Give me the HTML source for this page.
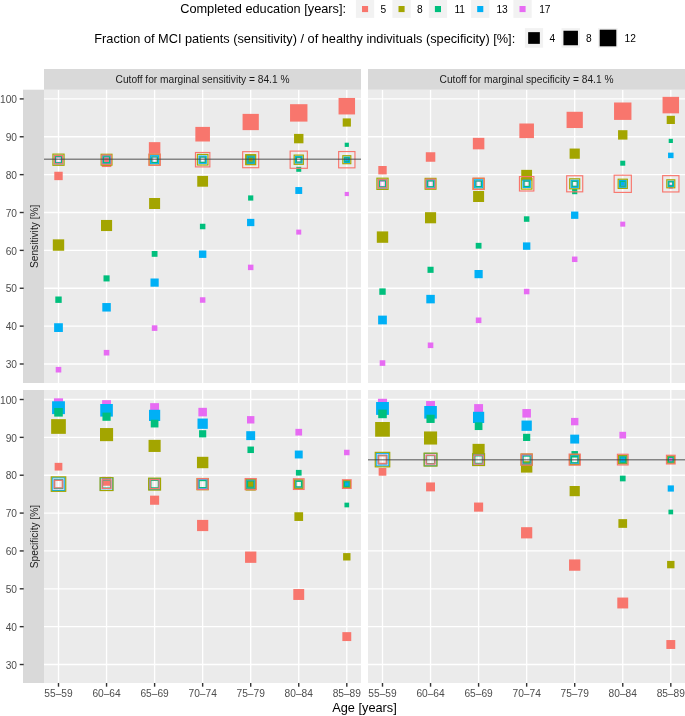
<!DOCTYPE html>
<html lang="en"><head><meta charset="utf-8"><title>Sensitivity and specificity by age and education</title>
<style>html,body{margin:0;padding:0;background:#fff}svg{display:block}text{font-family:"Liberation Sans",Arial,Helvetica,sans-serif}</style></head><body>
<svg width="685" height="716" viewBox="0 0 685 716">
<rect width="685" height="716" fill="#fff"/>
<clipPath id="c1"><rect x="44" y="89.7" width="317" height="293.3"/></clipPath>
<rect x="44" y="89.7" width="317" height="293.3" fill="#EBEBEB"/>
<g clip-path="url(#c1)">
<line x1="44" x2="361" y1="363.99" y2="363.99" stroke="#fff" stroke-width="1.35"/>
<line x1="44" x2="361" y1="326.12" y2="326.12" stroke="#fff" stroke-width="1.35"/>
<line x1="44" x2="361" y1="288.25" y2="288.25" stroke="#fff" stroke-width="1.35"/>
<line x1="44" x2="361" y1="250.38" y2="250.38" stroke="#fff" stroke-width="1.35"/>
<line x1="44" x2="361" y1="212.51" y2="212.51" stroke="#fff" stroke-width="1.35"/>
<line x1="44" x2="361" y1="174.64" y2="174.64" stroke="#fff" stroke-width="1.35"/>
<line x1="44" x2="361" y1="136.77" y2="136.77" stroke="#fff" stroke-width="1.35"/>
<line x1="44" x2="361" y1="98.9" y2="98.9" stroke="#fff" stroke-width="1.35"/>
<line x1="58.5" x2="58.5" y1="89.7" y2="383" stroke="#fff" stroke-width="1.35"/>
<line x1="106.55" x2="106.55" y1="89.7" y2="383" stroke="#fff" stroke-width="1.35"/>
<line x1="154.6" x2="154.6" y1="89.7" y2="383" stroke="#fff" stroke-width="1.35"/>
<line x1="202.65" x2="202.65" y1="89.7" y2="383" stroke="#fff" stroke-width="1.35"/>
<line x1="250.7" x2="250.7" y1="89.7" y2="383" stroke="#fff" stroke-width="1.35"/>
<line x1="298.75" x2="298.75" y1="89.7" y2="383" stroke="#fff" stroke-width="1.35"/>
<line x1="346.8" x2="346.8" y1="89.7" y2="383" stroke="#fff" stroke-width="1.35"/>
<rect x="55.7" y="366.9" width="5.6" height="5.6" fill="#E76BF3"/>
<rect x="103.75" y="349.9" width="5.6" height="5.6" fill="#E76BF3"/>
<rect x="151.8" y="325.3" width="5.6" height="5.6" fill="#E76BF3"/>
<rect x="199.9" y="297.25" width="5.5" height="5.5" fill="#E76BF3"/>
<rect x="247.95" y="264.65" width="5.5" height="5.5" fill="#E76BF3"/>
<rect x="296.25" y="229.6" width="5" height="5" fill="#E76BF3"/>
<rect x="344.7" y="191.9" width="4.2" height="4.2" fill="#E76BF3"/>
<rect x="54.12" y="323.23" width="8.75" height="8.75" fill="#00B0F6"/>
<rect x="102.3" y="303.05" width="8.5" height="8.5" fill="#00B0F6"/>
<rect x="150.5" y="278.5" width="8.2" height="8.2" fill="#00B0F6"/>
<rect x="198.95" y="250.5" width="7.4" height="7.4" fill="#00B0F6"/>
<rect x="247.05" y="218.85" width="7.3" height="7.3" fill="#00B0F6"/>
<rect x="295.3" y="187.05" width="6.9" height="6.9" fill="#00B0F6"/>
<rect x="344.05" y="157.25" width="5.5" height="5.5" fill="#00B0F6"/>
<rect x="55.3" y="296.5" width="6.4" height="6.4" fill="#00BF7D"/>
<rect x="103.5" y="275.35" width="6.1" height="6.1" fill="#00BF7D"/>
<rect x="151.7" y="251" width="5.8" height="5.8" fill="#00BF7D"/>
<rect x="199.9" y="223.75" width="5.5" height="5.5" fill="#00BF7D"/>
<rect x="248.1" y="195.4" width="5.2" height="5.2" fill="#00BF7D"/>
<rect x="296.25" y="166.8" width="5" height="5" fill="#00BF7D"/>
<rect x="344.7" y="142.7" width="4.2" height="4.2" fill="#00BF7D"/>
<rect x="52.8" y="239.35" width="11.4" height="11.4" fill="#A3A500"/>
<rect x="101" y="219.95" width="11.1" height="11.1" fill="#A3A500"/>
<rect x="149.1" y="198" width="11" height="11" fill="#A3A500"/>
<rect x="197.25" y="175.9" width="10.8" height="10.8" fill="#A3A500"/>
<rect x="245.6" y="154.4" width="10.2" height="10.2" fill="#A3A500"/>
<rect x="294.05" y="133.9" width="9.4" height="9.4" fill="#A3A500"/>
<rect x="342.7" y="118.4" width="8.2" height="8.2" fill="#A3A500"/>
<rect x="54.3" y="171.75" width="8.4" height="8.4" fill="#F8766D"/>
<rect x="101.8" y="157.55" width="9.5" height="9.5" fill="#F8766D"/>
<rect x="148.85" y="142.15" width="11.5" height="11.5" fill="#F8766D"/>
<rect x="195.35" y="126.9" width="14.6" height="14.6" fill="#F8766D"/>
<rect x="242.57" y="113.88" width="16.25" height="16.25" fill="#F8766D"/>
<rect x="290.05" y="104.2" width="17.4" height="17.4" fill="#F8766D"/>
<rect x="338.55" y="97.95" width="16.5" height="16.5" fill="#F8766D"/>
<rect x="55.8" y="157" width="5.4" height="5.4" fill="none" stroke="#E76BF3" stroke-width="1.15"/>
<rect x="103.85" y="157" width="5.4" height="5.4" fill="none" stroke="#E76BF3" stroke-width="1.15"/>
<rect x="151.9" y="157" width="5.4" height="5.4" fill="none" stroke="#E76BF3" stroke-width="1.15"/>
<rect x="200" y="157.05" width="5.3" height="5.3" fill="none" stroke="#E76BF3" stroke-width="1.15"/>
<rect x="248.05" y="157.05" width="5.3" height="5.3" fill="none" stroke="#E76BF3" stroke-width="1.15"/>
<rect x="296.35" y="157.3" width="4.8" height="4.8" fill="none" stroke="#E76BF3" stroke-width="1.15"/>
<rect x="344.8" y="157.7" width="4" height="4" fill="none" stroke="#E76BF3" stroke-width="1.15"/>
<rect x="54.23" y="155.42" width="8.55" height="8.55" fill="none" stroke="#00B0F6" stroke-width="1.15"/>
<rect x="102.4" y="155.55" width="8.3" height="8.3" fill="none" stroke="#00B0F6" stroke-width="1.15"/>
<rect x="150.6" y="155.7" width="8" height="8" fill="none" stroke="#00B0F6" stroke-width="1.15"/>
<rect x="199.05" y="156.1" width="7.2" height="7.2" fill="none" stroke="#00B0F6" stroke-width="1.15"/>
<rect x="247.15" y="156.15" width="7.1" height="7.1" fill="none" stroke="#00B0F6" stroke-width="1.15"/>
<rect x="295.4" y="156.35" width="6.7" height="6.7" fill="none" stroke="#00B0F6" stroke-width="1.15"/>
<rect x="344.15" y="157.05" width="5.3" height="5.3" fill="none" stroke="#00B0F6" stroke-width="1.15"/>
<rect x="55.4" y="156.6" width="6.2" height="6.2" fill="none" stroke="#00BF7D" stroke-width="1.15"/>
<rect x="103.6" y="156.75" width="5.9" height="5.9" fill="none" stroke="#00BF7D" stroke-width="1.15"/>
<rect x="151.8" y="156.9" width="5.6" height="5.6" fill="none" stroke="#00BF7D" stroke-width="1.15"/>
<rect x="200" y="157.05" width="5.3" height="5.3" fill="none" stroke="#00BF7D" stroke-width="1.15"/>
<rect x="248.2" y="157.2" width="5" height="5" fill="none" stroke="#00BF7D" stroke-width="1.15"/>
<rect x="296.35" y="157.3" width="4.8" height="4.8" fill="none" stroke="#00BF7D" stroke-width="1.15"/>
<rect x="344.8" y="157.7" width="4" height="4" fill="none" stroke="#00BF7D" stroke-width="1.15"/>
<rect x="52.9" y="154.1" width="11.2" height="11.2" fill="none" stroke="#A3A500" stroke-width="1.15"/>
<rect x="101.1" y="154.25" width="10.9" height="10.9" fill="none" stroke="#A3A500" stroke-width="1.15"/>
<rect x="149.2" y="154.3" width="10.8" height="10.8" fill="none" stroke="#A3A500" stroke-width="1.15"/>
<rect x="197.35" y="154.4" width="10.6" height="10.6" fill="none" stroke="#A3A500" stroke-width="1.15"/>
<rect x="245.7" y="154.7" width="10" height="10" fill="none" stroke="#A3A500" stroke-width="1.15"/>
<rect x="294.15" y="155.1" width="9.2" height="9.2" fill="none" stroke="#A3A500" stroke-width="1.15"/>
<rect x="342.8" y="155.7" width="8" height="8" fill="none" stroke="#A3A500" stroke-width="1.15"/>
<rect x="54.4" y="155.6" width="8.2" height="8.2" fill="none" stroke="#F8766D" stroke-width="1.15"/>
<rect x="101.9" y="155.05" width="9.3" height="9.3" fill="none" stroke="#F8766D" stroke-width="1.15"/>
<rect x="148.95" y="154.05" width="11.3" height="11.3" fill="none" stroke="#F8766D" stroke-width="1.15"/>
<rect x="195.45" y="152.5" width="14.4" height="14.4" fill="none" stroke="#F8766D" stroke-width="1.15"/>
<rect x="242.67" y="151.67" width="16.05" height="16.05" fill="none" stroke="#F8766D" stroke-width="1.15"/>
<rect x="290.15" y="151.1" width="17.2" height="17.2" fill="none" stroke="#F8766D" stroke-width="1.15"/>
<rect x="338.65" y="151.55" width="16.3" height="16.3" fill="none" stroke="#F8766D" stroke-width="1.15"/>
<line x1="44" x2="361" y1="159.2" y2="159.2" stroke="#404040" stroke-opacity="0.6" stroke-width="1.45"/>
</g>
<clipPath id="c2"><rect x="368" y="89.7" width="317" height="293.3"/></clipPath>
<rect x="368" y="89.7" width="317" height="293.3" fill="#EBEBEB"/>
<g clip-path="url(#c2)">
<line x1="368" x2="685" y1="363.99" y2="363.99" stroke="#fff" stroke-width="1.35"/>
<line x1="368" x2="685" y1="326.12" y2="326.12" stroke="#fff" stroke-width="1.35"/>
<line x1="368" x2="685" y1="288.25" y2="288.25" stroke="#fff" stroke-width="1.35"/>
<line x1="368" x2="685" y1="250.38" y2="250.38" stroke="#fff" stroke-width="1.35"/>
<line x1="368" x2="685" y1="212.51" y2="212.51" stroke="#fff" stroke-width="1.35"/>
<line x1="368" x2="685" y1="174.64" y2="174.64" stroke="#fff" stroke-width="1.35"/>
<line x1="368" x2="685" y1="136.77" y2="136.77" stroke="#fff" stroke-width="1.35"/>
<line x1="368" x2="685" y1="98.9" y2="98.9" stroke="#fff" stroke-width="1.35"/>
<line x1="382.5" x2="382.5" y1="89.7" y2="383" stroke="#fff" stroke-width="1.35"/>
<line x1="430.55" x2="430.55" y1="89.7" y2="383" stroke="#fff" stroke-width="1.35"/>
<line x1="478.6" x2="478.6" y1="89.7" y2="383" stroke="#fff" stroke-width="1.35"/>
<line x1="526.65" x2="526.65" y1="89.7" y2="383" stroke="#fff" stroke-width="1.35"/>
<line x1="574.7" x2="574.7" y1="89.7" y2="383" stroke="#fff" stroke-width="1.35"/>
<line x1="622.75" x2="622.75" y1="89.7" y2="383" stroke="#fff" stroke-width="1.35"/>
<line x1="670.8" x2="670.8" y1="89.7" y2="383" stroke="#fff" stroke-width="1.35"/>
<rect x="379.7" y="360.25" width="5.6" height="5.6" fill="#E76BF3"/>
<rect x="427.75" y="342.5" width="5.6" height="5.6" fill="#E76BF3"/>
<rect x="475.8" y="317.5" width="5.6" height="5.6" fill="#E76BF3"/>
<rect x="523.9" y="288.8" width="5.5" height="5.5" fill="#E76BF3"/>
<rect x="571.95" y="256.55" width="5.5" height="5.5" fill="#E76BF3"/>
<rect x="620.25" y="221.65" width="5" height="5" fill="#E76BF3"/>
<rect x="668.7" y="184.6" width="4.2" height="4.2" fill="#E76BF3"/>
<rect x="378.12" y="315.62" width="8.75" height="8.75" fill="#00B0F6"/>
<rect x="426.3" y="294.85" width="8.5" height="8.5" fill="#00B0F6"/>
<rect x="474.5" y="270" width="8.2" height="8.2" fill="#00B0F6"/>
<rect x="522.95" y="242.4" width="7.4" height="7.4" fill="#00B0F6"/>
<rect x="571.05" y="211.55" width="7.3" height="7.3" fill="#00B0F6"/>
<rect x="619.3" y="180.65" width="6.9" height="6.9" fill="#00B0F6"/>
<rect x="668.05" y="152.65" width="5.5" height="5.5" fill="#00B0F6"/>
<rect x="379.3" y="288.4" width="6.4" height="6.4" fill="#00BF7D"/>
<rect x="427.5" y="266.75" width="6.1" height="6.1" fill="#00BF7D"/>
<rect x="475.7" y="242.85" width="5.8" height="5.8" fill="#00BF7D"/>
<rect x="523.9" y="216.3" width="5.5" height="5.5" fill="#00BF7D"/>
<rect x="572.1" y="189" width="5.2" height="5.2" fill="#00BF7D"/>
<rect x="620.25" y="160.7" width="5" height="5" fill="#00BF7D"/>
<rect x="668.7" y="138.8" width="4.2" height="4.2" fill="#00BF7D"/>
<rect x="376.8" y="231.4" width="11.4" height="11.4" fill="#A3A500"/>
<rect x="425" y="212.2" width="11.1" height="11.1" fill="#A3A500"/>
<rect x="473.1" y="191" width="11" height="11" fill="#A3A500"/>
<rect x="521.25" y="169.85" width="10.8" height="10.8" fill="#A3A500"/>
<rect x="569.6" y="148.55" width="10.2" height="10.2" fill="#A3A500"/>
<rect x="618.05" y="130.2" width="9.4" height="9.4" fill="#A3A500"/>
<rect x="666.7" y="115.8" width="8.2" height="8.2" fill="#A3A500"/>
<rect x="378.3" y="166" width="8.4" height="8.4" fill="#F8766D"/>
<rect x="425.8" y="152.25" width="9.5" height="9.5" fill="#F8766D"/>
<rect x="472.85" y="137.85" width="11.5" height="11.5" fill="#F8766D"/>
<rect x="519.35" y="123.5" width="14.6" height="14.6" fill="#F8766D"/>
<rect x="566.58" y="111.78" width="16.25" height="16.25" fill="#F8766D"/>
<rect x="614.05" y="102.5" width="17.4" height="17.4" fill="#F8766D"/>
<rect x="662.55" y="96.85" width="16.5" height="16.5" fill="#F8766D"/>
<rect x="379.8" y="181.1" width="5.4" height="5.4" fill="none" stroke="#E76BF3" stroke-width="1.15"/>
<rect x="427.85" y="181.1" width="5.4" height="5.4" fill="none" stroke="#E76BF3" stroke-width="1.15"/>
<rect x="475.9" y="181.1" width="5.4" height="5.4" fill="none" stroke="#E76BF3" stroke-width="1.15"/>
<rect x="524" y="181.15" width="5.3" height="5.3" fill="none" stroke="#E76BF3" stroke-width="1.15"/>
<rect x="572.05" y="181.15" width="5.3" height="5.3" fill="none" stroke="#E76BF3" stroke-width="1.15"/>
<rect x="620.35" y="181.4" width="4.8" height="4.8" fill="none" stroke="#E76BF3" stroke-width="1.15"/>
<rect x="668.8" y="181.8" width="4" height="4" fill="none" stroke="#E76BF3" stroke-width="1.15"/>
<rect x="378.23" y="179.53" width="8.55" height="8.55" fill="none" stroke="#00B0F6" stroke-width="1.15"/>
<rect x="426.4" y="179.65" width="8.3" height="8.3" fill="none" stroke="#00B0F6" stroke-width="1.15"/>
<rect x="474.6" y="179.8" width="8" height="8" fill="none" stroke="#00B0F6" stroke-width="1.15"/>
<rect x="523.05" y="180.2" width="7.2" height="7.2" fill="none" stroke="#00B0F6" stroke-width="1.15"/>
<rect x="571.15" y="180.25" width="7.1" height="7.1" fill="none" stroke="#00B0F6" stroke-width="1.15"/>
<rect x="619.4" y="180.45" width="6.7" height="6.7" fill="none" stroke="#00B0F6" stroke-width="1.15"/>
<rect x="668.15" y="181.15" width="5.3" height="5.3" fill="none" stroke="#00B0F6" stroke-width="1.15"/>
<rect x="379.4" y="180.7" width="6.2" height="6.2" fill="none" stroke="#00BF7D" stroke-width="1.15"/>
<rect x="427.6" y="180.85" width="5.9" height="5.9" fill="none" stroke="#00BF7D" stroke-width="1.15"/>
<rect x="475.8" y="181" width="5.6" height="5.6" fill="none" stroke="#00BF7D" stroke-width="1.15"/>
<rect x="524" y="181.15" width="5.3" height="5.3" fill="none" stroke="#00BF7D" stroke-width="1.15"/>
<rect x="572.2" y="181.3" width="5" height="5" fill="none" stroke="#00BF7D" stroke-width="1.15"/>
<rect x="620.35" y="181.4" width="4.8" height="4.8" fill="none" stroke="#00BF7D" stroke-width="1.15"/>
<rect x="668.8" y="181.8" width="4" height="4" fill="none" stroke="#00BF7D" stroke-width="1.15"/>
<rect x="376.9" y="178.2" width="11.2" height="11.2" fill="none" stroke="#A3A500" stroke-width="1.15"/>
<rect x="425.1" y="178.35" width="10.9" height="10.9" fill="none" stroke="#A3A500" stroke-width="1.15"/>
<rect x="473.2" y="178.4" width="10.8" height="10.8" fill="none" stroke="#A3A500" stroke-width="1.15"/>
<rect x="521.35" y="178.5" width="10.6" height="10.6" fill="none" stroke="#A3A500" stroke-width="1.15"/>
<rect x="569.7" y="178.8" width="10" height="10" fill="none" stroke="#A3A500" stroke-width="1.15"/>
<rect x="618.15" y="179.2" width="9.2" height="9.2" fill="none" stroke="#A3A500" stroke-width="1.15"/>
<rect x="666.8" y="179.8" width="8" height="8" fill="none" stroke="#A3A500" stroke-width="1.15"/>
<rect x="378.4" y="179.7" width="8.2" height="8.2" fill="none" stroke="#F8766D" stroke-width="1.15"/>
<rect x="425.9" y="179.15" width="9.3" height="9.3" fill="none" stroke="#F8766D" stroke-width="1.15"/>
<rect x="472.95" y="178.15" width="11.3" height="11.3" fill="none" stroke="#F8766D" stroke-width="1.15"/>
<rect x="519.45" y="176.6" width="14.4" height="14.4" fill="none" stroke="#F8766D" stroke-width="1.15"/>
<rect x="566.68" y="175.78" width="16.05" height="16.05" fill="none" stroke="#F8766D" stroke-width="1.15"/>
<rect x="614.15" y="175.2" width="17.2" height="17.2" fill="none" stroke="#F8766D" stroke-width="1.15"/>
<rect x="662.65" y="175.65" width="16.3" height="16.3" fill="none" stroke="#F8766D" stroke-width="1.15"/>
</g>
<clipPath id="c3"><rect x="44" y="390" width="317" height="293"/></clipPath>
<rect x="44" y="390" width="317" height="293" fill="#EBEBEB"/>
<g clip-path="url(#c3)">
<line x1="44" x2="361" y1="664.52" y2="664.52" stroke="#fff" stroke-width="1.35"/>
<line x1="44" x2="361" y1="626.66" y2="626.66" stroke="#fff" stroke-width="1.35"/>
<line x1="44" x2="361" y1="588.8" y2="588.8" stroke="#fff" stroke-width="1.35"/>
<line x1="44" x2="361" y1="550.94" y2="550.94" stroke="#fff" stroke-width="1.35"/>
<line x1="44" x2="361" y1="513.08" y2="513.08" stroke="#fff" stroke-width="1.35"/>
<line x1="44" x2="361" y1="475.22" y2="475.22" stroke="#fff" stroke-width="1.35"/>
<line x1="44" x2="361" y1="437.36" y2="437.36" stroke="#fff" stroke-width="1.35"/>
<line x1="44" x2="361" y1="399.5" y2="399.5" stroke="#fff" stroke-width="1.35"/>
<line x1="58.5" x2="58.5" y1="390" y2="683" stroke="#fff" stroke-width="1.35"/>
<line x1="106.55" x2="106.55" y1="390" y2="683" stroke="#fff" stroke-width="1.35"/>
<line x1="154.6" x2="154.6" y1="390" y2="683" stroke="#fff" stroke-width="1.35"/>
<line x1="202.65" x2="202.65" y1="390" y2="683" stroke="#fff" stroke-width="1.35"/>
<line x1="250.7" x2="250.7" y1="390" y2="683" stroke="#fff" stroke-width="1.35"/>
<line x1="298.75" x2="298.75" y1="390" y2="683" stroke="#fff" stroke-width="1.35"/>
<line x1="346.8" x2="346.8" y1="390" y2="683" stroke="#fff" stroke-width="1.35"/>
<rect x="53.95" y="398.3" width="9.1" height="9.1" fill="#E76BF3"/>
<rect x="102.1" y="400.15" width="8.9" height="8.9" fill="#E76BF3"/>
<rect x="150.15" y="403.15" width="8.9" height="8.9" fill="#E76BF3"/>
<rect x="198.37" y="407.83" width="8.55" height="8.55" fill="#E76BF3"/>
<rect x="247" y="416.1" width="7.4" height="7.4" fill="#E76BF3"/>
<rect x="295.4" y="428.85" width="6.7" height="6.7" fill="#E76BF3"/>
<rect x="344.05" y="449.75" width="5.5" height="5.5" fill="#E76BF3"/>
<rect x="52.08" y="401.27" width="12.85" height="12.85" fill="#00B0F6"/>
<rect x="100.25" y="404" width="12.6" height="12.6" fill="#00B0F6"/>
<rect x="149" y="409.8" width="11.2" height="11.2" fill="#00B0F6"/>
<rect x="197.5" y="418.55" width="10.3" height="10.3" fill="#00B0F6"/>
<rect x="246.25" y="431.2" width="8.9" height="8.9" fill="#00B0F6"/>
<rect x="294.8" y="450.55" width="7.9" height="7.9" fill="#00B0F6"/>
<rect x="343.7" y="480.9" width="6.2" height="6.2" fill="#00B0F6"/>
<rect x="54.2" y="408" width="8.6" height="8.6" fill="#00BF7D"/>
<rect x="102.45" y="412.6" width="8.2" height="8.2" fill="#00BF7D"/>
<rect x="150.75" y="419.75" width="7.7" height="7.7" fill="#00BF7D"/>
<rect x="199.05" y="430.2" width="7.2" height="7.2" fill="#00BF7D"/>
<rect x="247.45" y="446.55" width="6.5" height="6.5" fill="#00BF7D"/>
<rect x="295.9" y="469.9" width="5.7" height="5.7" fill="#00BF7D"/>
<rect x="344.45" y="502.65" width="4.7" height="4.7" fill="#00BF7D"/>
<rect x="51.15" y="419.15" width="14.7" height="14.7" fill="#A3A500"/>
<rect x="100" y="428.05" width="13.1" height="13.1" fill="#A3A500"/>
<rect x="148.55" y="439.85" width="12.1" height="12.1" fill="#A3A500"/>
<rect x="196.95" y="456.8" width="11.4" height="11.4" fill="#A3A500"/>
<rect x="245.6" y="480.4" width="10.2" height="10.2" fill="#A3A500"/>
<rect x="294.4" y="512.25" width="8.7" height="8.7" fill="#A3A500"/>
<rect x="343.1" y="553.1" width="7.4" height="7.4" fill="#A3A500"/>
<rect x="54.65" y="462.85" width="7.7" height="7.7" fill="#F8766D"/>
<rect x="102.1" y="476.85" width="8.9" height="8.9" fill="#F8766D"/>
<rect x="150.05" y="495.65" width="9.1" height="9.1" fill="#F8766D"/>
<rect x="197.05" y="519.9" width="11.2" height="11.2" fill="#F8766D"/>
<rect x="245.05" y="551.55" width="11.3" height="11.3" fill="#F8766D"/>
<rect x="293.3" y="589.05" width="10.9" height="10.9" fill="#F8766D"/>
<rect x="342.35" y="632.15" width="8.9" height="8.9" fill="#F8766D"/>
<rect x="54.05" y="479.65" width="8.9" height="8.9" fill="none" stroke="#E76BF3" stroke-width="1.15"/>
<rect x="102.2" y="479.75" width="8.7" height="8.7" fill="none" stroke="#E76BF3" stroke-width="1.15"/>
<rect x="150.25" y="479.75" width="8.7" height="8.7" fill="none" stroke="#E76BF3" stroke-width="1.15"/>
<rect x="198.47" y="479.93" width="8.35" height="8.35" fill="none" stroke="#E76BF3" stroke-width="1.15"/>
<rect x="247.1" y="480.5" width="7.2" height="7.2" fill="none" stroke="#E76BF3" stroke-width="1.15"/>
<rect x="295.5" y="480.85" width="6.5" height="6.5" fill="none" stroke="#E76BF3" stroke-width="1.15"/>
<rect x="344.15" y="481.45" width="5.3" height="5.3" fill="none" stroke="#E76BF3" stroke-width="1.15"/>
<rect x="52.17" y="477.78" width="12.65" height="12.65" fill="none" stroke="#00B0F6" stroke-width="1.15"/>
<rect x="100.35" y="477.9" width="12.4" height="12.4" fill="none" stroke="#00B0F6" stroke-width="1.15"/>
<rect x="149.1" y="478.6" width="11" height="11" fill="none" stroke="#00B0F6" stroke-width="1.15"/>
<rect x="197.6" y="479.05" width="10.1" height="10.1" fill="none" stroke="#00B0F6" stroke-width="1.15"/>
<rect x="246.35" y="479.75" width="8.7" height="8.7" fill="none" stroke="#00B0F6" stroke-width="1.15"/>
<rect x="294.9" y="480.25" width="7.7" height="7.7" fill="none" stroke="#00B0F6" stroke-width="1.15"/>
<rect x="343.8" y="481.1" width="6" height="6" fill="none" stroke="#00B0F6" stroke-width="1.15"/>
<rect x="54.3" y="479.9" width="8.4" height="8.4" fill="none" stroke="#00BF7D" stroke-width="1.15"/>
<rect x="102.55" y="480.1" width="8" height="8" fill="none" stroke="#00BF7D" stroke-width="1.15"/>
<rect x="150.85" y="480.35" width="7.5" height="7.5" fill="none" stroke="#00BF7D" stroke-width="1.15"/>
<rect x="199.15" y="480.6" width="7" height="7" fill="none" stroke="#00BF7D" stroke-width="1.15"/>
<rect x="247.55" y="480.95" width="6.3" height="6.3" fill="none" stroke="#00BF7D" stroke-width="1.15"/>
<rect x="296" y="481.35" width="5.5" height="5.5" fill="none" stroke="#00BF7D" stroke-width="1.15"/>
<rect x="344.55" y="481.85" width="4.5" height="4.5" fill="none" stroke="#00BF7D" stroke-width="1.15"/>
<rect x="51.25" y="476.85" width="14.5" height="14.5" fill="none" stroke="#A3A500" stroke-width="1.15"/>
<rect x="100.1" y="477.65" width="12.9" height="12.9" fill="none" stroke="#A3A500" stroke-width="1.15"/>
<rect x="148.65" y="478.15" width="11.9" height="11.9" fill="none" stroke="#A3A500" stroke-width="1.15"/>
<rect x="197.05" y="478.5" width="11.2" height="11.2" fill="none" stroke="#A3A500" stroke-width="1.15"/>
<rect x="245.7" y="479.1" width="10" height="10" fill="none" stroke="#A3A500" stroke-width="1.15"/>
<rect x="294.5" y="479.85" width="8.5" height="8.5" fill="none" stroke="#A3A500" stroke-width="1.15"/>
<rect x="343.2" y="480.5" width="7.2" height="7.2" fill="none" stroke="#A3A500" stroke-width="1.15"/>
<rect x="54.75" y="480.35" width="7.5" height="7.5" fill="none" stroke="#F8766D" stroke-width="1.15"/>
<rect x="102.2" y="479.75" width="8.7" height="8.7" fill="none" stroke="#F8766D" stroke-width="1.15"/>
<rect x="150.15" y="479.65" width="8.9" height="8.9" fill="none" stroke="#F8766D" stroke-width="1.15"/>
<rect x="197.15" y="478.6" width="11" height="11" fill="none" stroke="#F8766D" stroke-width="1.15"/>
<rect x="245.15" y="478.55" width="11.1" height="11.1" fill="none" stroke="#F8766D" stroke-width="1.15"/>
<rect x="293.4" y="478.75" width="10.7" height="10.7" fill="none" stroke="#F8766D" stroke-width="1.15"/>
<rect x="342.45" y="479.75" width="8.7" height="8.7" fill="none" stroke="#F8766D" stroke-width="1.15"/>
</g>
<clipPath id="c4"><rect x="368" y="390" width="317" height="293"/></clipPath>
<rect x="368" y="390" width="317" height="293" fill="#EBEBEB"/>
<g clip-path="url(#c4)">
<line x1="368" x2="685" y1="664.52" y2="664.52" stroke="#fff" stroke-width="1.35"/>
<line x1="368" x2="685" y1="626.66" y2="626.66" stroke="#fff" stroke-width="1.35"/>
<line x1="368" x2="685" y1="588.8" y2="588.8" stroke="#fff" stroke-width="1.35"/>
<line x1="368" x2="685" y1="550.94" y2="550.94" stroke="#fff" stroke-width="1.35"/>
<line x1="368" x2="685" y1="513.08" y2="513.08" stroke="#fff" stroke-width="1.35"/>
<line x1="368" x2="685" y1="475.22" y2="475.22" stroke="#fff" stroke-width="1.35"/>
<line x1="368" x2="685" y1="437.36" y2="437.36" stroke="#fff" stroke-width="1.35"/>
<line x1="368" x2="685" y1="399.5" y2="399.5" stroke="#fff" stroke-width="1.35"/>
<line x1="382.5" x2="382.5" y1="390" y2="683" stroke="#fff" stroke-width="1.35"/>
<line x1="430.55" x2="430.55" y1="390" y2="683" stroke="#fff" stroke-width="1.35"/>
<line x1="478.6" x2="478.6" y1="390" y2="683" stroke="#fff" stroke-width="1.35"/>
<line x1="526.65" x2="526.65" y1="390" y2="683" stroke="#fff" stroke-width="1.35"/>
<line x1="574.7" x2="574.7" y1="390" y2="683" stroke="#fff" stroke-width="1.35"/>
<line x1="622.75" x2="622.75" y1="390" y2="683" stroke="#fff" stroke-width="1.35"/>
<line x1="670.8" x2="670.8" y1="390" y2="683" stroke="#fff" stroke-width="1.35"/>
<rect x="377.95" y="398.75" width="9.1" height="9.1" fill="#E76BF3"/>
<rect x="426.1" y="401.05" width="8.9" height="8.9" fill="#E76BF3"/>
<rect x="474.15" y="404.1" width="8.9" height="8.9" fill="#E76BF3"/>
<rect x="522.38" y="409.03" width="8.55" height="8.55" fill="#E76BF3"/>
<rect x="571" y="417.9" width="7.4" height="7.4" fill="#E76BF3"/>
<rect x="619.4" y="431.8" width="6.7" height="6.7" fill="#E76BF3"/>
<rect x="668.05" y="456.25" width="5.5" height="5.5" fill="#E76BF3"/>
<rect x="376.07" y="402.02" width="12.85" height="12.85" fill="#00B0F6"/>
<rect x="424.25" y="406" width="12.6" height="12.6" fill="#00B0F6"/>
<rect x="473" y="411.8" width="11.2" height="11.2" fill="#00B0F6"/>
<rect x="521.5" y="420.55" width="10.3" height="10.3" fill="#00B0F6"/>
<rect x="570.25" y="434.65" width="8.9" height="8.9" fill="#00B0F6"/>
<rect x="618.8" y="455.55" width="7.9" height="7.9" fill="#00B0F6"/>
<rect x="667.7" y="485.4" width="6.2" height="6.2" fill="#00B0F6"/>
<rect x="378.2" y="409.6" width="8.6" height="8.6" fill="#00BF7D"/>
<rect x="426.45" y="414.75" width="8.2" height="8.2" fill="#00BF7D"/>
<rect x="474.75" y="422.35" width="7.7" height="7.7" fill="#00BF7D"/>
<rect x="523.05" y="433.8" width="7.2" height="7.2" fill="#00BF7D"/>
<rect x="571.45" y="451.05" width="6.5" height="6.5" fill="#00BF7D"/>
<rect x="619.9" y="475.65" width="5.7" height="5.7" fill="#00BF7D"/>
<rect x="668.45" y="509.65" width="4.7" height="4.7" fill="#00BF7D"/>
<rect x="375.15" y="422" width="14.7" height="14.7" fill="#A3A500"/>
<rect x="424" y="431.45" width="13.1" height="13.1" fill="#A3A500"/>
<rect x="472.55" y="443.85" width="12.1" height="12.1" fill="#A3A500"/>
<rect x="520.95" y="461.2" width="11.4" height="11.4" fill="#A3A500"/>
<rect x="569.6" y="486" width="10.2" height="10.2" fill="#A3A500"/>
<rect x="618.4" y="519.15" width="8.7" height="8.7" fill="#A3A500"/>
<rect x="667.1" y="560.9" width="7.4" height="7.4" fill="#A3A500"/>
<rect x="378.65" y="468" width="7.7" height="7.7" fill="#F8766D"/>
<rect x="426.1" y="482.45" width="8.9" height="8.9" fill="#F8766D"/>
<rect x="474.05" y="502.55" width="9.1" height="9.1" fill="#F8766D"/>
<rect x="521.05" y="527.2" width="11.2" height="11.2" fill="#F8766D"/>
<rect x="569.05" y="559.45" width="11.3" height="11.3" fill="#F8766D"/>
<rect x="617.3" y="597.55" width="10.9" height="10.9" fill="#F8766D"/>
<rect x="666.35" y="640.05" width="8.9" height="8.9" fill="#F8766D"/>
<rect x="378.05" y="455.15" width="8.9" height="8.9" fill="none" stroke="#E76BF3" stroke-width="1.15"/>
<rect x="426.2" y="455.25" width="8.7" height="8.7" fill="none" stroke="#E76BF3" stroke-width="1.15"/>
<rect x="474.25" y="455.25" width="8.7" height="8.7" fill="none" stroke="#E76BF3" stroke-width="1.15"/>
<rect x="522.48" y="455.43" width="8.35" height="8.35" fill="none" stroke="#E76BF3" stroke-width="1.15"/>
<rect x="571.1" y="456" width="7.2" height="7.2" fill="none" stroke="#E76BF3" stroke-width="1.15"/>
<rect x="619.5" y="456.35" width="6.5" height="6.5" fill="none" stroke="#E76BF3" stroke-width="1.15"/>
<rect x="668.15" y="456.95" width="5.3" height="5.3" fill="none" stroke="#E76BF3" stroke-width="1.15"/>
<rect x="376.18" y="453.28" width="12.65" height="12.65" fill="none" stroke="#00B0F6" stroke-width="1.15"/>
<rect x="424.35" y="453.4" width="12.4" height="12.4" fill="none" stroke="#00B0F6" stroke-width="1.15"/>
<rect x="473.1" y="454.1" width="11" height="11" fill="none" stroke="#00B0F6" stroke-width="1.15"/>
<rect x="521.6" y="454.55" width="10.1" height="10.1" fill="none" stroke="#00B0F6" stroke-width="1.15"/>
<rect x="570.35" y="455.25" width="8.7" height="8.7" fill="none" stroke="#00B0F6" stroke-width="1.15"/>
<rect x="618.9" y="455.75" width="7.7" height="7.7" fill="none" stroke="#00B0F6" stroke-width="1.15"/>
<rect x="667.8" y="456.6" width="6" height="6" fill="none" stroke="#00B0F6" stroke-width="1.15"/>
<rect x="378.3" y="455.4" width="8.4" height="8.4" fill="none" stroke="#00BF7D" stroke-width="1.15"/>
<rect x="426.55" y="455.6" width="8" height="8" fill="none" stroke="#00BF7D" stroke-width="1.15"/>
<rect x="474.85" y="455.85" width="7.5" height="7.5" fill="none" stroke="#00BF7D" stroke-width="1.15"/>
<rect x="523.15" y="456.1" width="7" height="7" fill="none" stroke="#00BF7D" stroke-width="1.15"/>
<rect x="571.55" y="456.45" width="6.3" height="6.3" fill="none" stroke="#00BF7D" stroke-width="1.15"/>
<rect x="620" y="456.85" width="5.5" height="5.5" fill="none" stroke="#00BF7D" stroke-width="1.15"/>
<rect x="668.55" y="457.35" width="4.5" height="4.5" fill="none" stroke="#00BF7D" stroke-width="1.15"/>
<rect x="375.25" y="452.35" width="14.5" height="14.5" fill="none" stroke="#A3A500" stroke-width="1.15"/>
<rect x="424.1" y="453.15" width="12.9" height="12.9" fill="none" stroke="#A3A500" stroke-width="1.15"/>
<rect x="472.65" y="453.65" width="11.9" height="11.9" fill="none" stroke="#A3A500" stroke-width="1.15"/>
<rect x="521.05" y="454" width="11.2" height="11.2" fill="none" stroke="#A3A500" stroke-width="1.15"/>
<rect x="569.7" y="454.6" width="10" height="10" fill="none" stroke="#A3A500" stroke-width="1.15"/>
<rect x="618.5" y="455.35" width="8.5" height="8.5" fill="none" stroke="#A3A500" stroke-width="1.15"/>
<rect x="667.2" y="456" width="7.2" height="7.2" fill="none" stroke="#A3A500" stroke-width="1.15"/>
<rect x="378.75" y="455.85" width="7.5" height="7.5" fill="none" stroke="#F8766D" stroke-width="1.15"/>
<rect x="426.2" y="455.25" width="8.7" height="8.7" fill="none" stroke="#F8766D" stroke-width="1.15"/>
<rect x="474.15" y="455.15" width="8.9" height="8.9" fill="none" stroke="#F8766D" stroke-width="1.15"/>
<rect x="521.15" y="454.1" width="11" height="11" fill="none" stroke="#F8766D" stroke-width="1.15"/>
<rect x="569.15" y="454.05" width="11.1" height="11.1" fill="none" stroke="#F8766D" stroke-width="1.15"/>
<rect x="617.4" y="454.25" width="10.7" height="10.7" fill="none" stroke="#F8766D" stroke-width="1.15"/>
<rect x="666.45" y="455.25" width="8.7" height="8.7" fill="none" stroke="#F8766D" stroke-width="1.15"/>
<line x1="368" x2="685" y1="459.7" y2="459.7" stroke="#404040" stroke-opacity="0.6" stroke-width="1.45"/>
</g>
<rect x="44.0" y="69" width="317.0" height="20.7" fill="#D9D9D9"/>
<rect x="368.0" y="69" width="317.0" height="20.7" fill="#D9D9D9"/>
<rect x="23" y="89.7" width="21" height="293.3" fill="#D9D9D9"/>
<rect x="23" y="390.0" width="21" height="293" fill="#D9D9D9"/>
<text x="202.5" y="82.9" font-size="10.2" fill="#1A1A1A" text-anchor="middle">Cutoff for marginal sensitivity = 84.1 %</text>
<text x="526.5" y="82.9" font-size="10.2" fill="#1A1A1A" text-anchor="middle">Cutoff for marginal specificity = 84.1 %</text>
<text transform="translate(37.6,236.35) rotate(-90)" font-size="10.2" fill="#1A1A1A" text-anchor="middle">Sensitivity [%]</text>
<text transform="translate(37.6,536.5) rotate(-90)" font-size="10.2" fill="#1A1A1A" text-anchor="middle">Specificity [%]</text>
<line x1="19.7" x2="23.7" y1="363.99" y2="363.99" stroke="#333" stroke-width="1.4"/>
<text x="17" y="368.19" font-size="10.2" fill="#4D4D4D" text-anchor="end">30</text>
<line x1="19.7" x2="23.7" y1="326.12" y2="326.12" stroke="#333" stroke-width="1.4"/>
<text x="17" y="330.32" font-size="10.2" fill="#4D4D4D" text-anchor="end">40</text>
<line x1="19.7" x2="23.7" y1="288.25" y2="288.25" stroke="#333" stroke-width="1.4"/>
<text x="17" y="292.45" font-size="10.2" fill="#4D4D4D" text-anchor="end">50</text>
<line x1="19.7" x2="23.7" y1="250.38" y2="250.38" stroke="#333" stroke-width="1.4"/>
<text x="17" y="254.58" font-size="10.2" fill="#4D4D4D" text-anchor="end">60</text>
<line x1="19.7" x2="23.7" y1="212.51" y2="212.51" stroke="#333" stroke-width="1.4"/>
<text x="17" y="216.71" font-size="10.2" fill="#4D4D4D" text-anchor="end">70</text>
<line x1="19.7" x2="23.7" y1="174.64" y2="174.64" stroke="#333" stroke-width="1.4"/>
<text x="17" y="178.84" font-size="10.2" fill="#4D4D4D" text-anchor="end">80</text>
<line x1="19.7" x2="23.7" y1="136.77" y2="136.77" stroke="#333" stroke-width="1.4"/>
<text x="17" y="140.97" font-size="10.2" fill="#4D4D4D" text-anchor="end">90</text>
<line x1="19.7" x2="23.7" y1="98.9" y2="98.9" stroke="#333" stroke-width="1.4"/>
<text x="17" y="103.1" font-size="10.2" fill="#4D4D4D" text-anchor="end">100</text>
<line x1="19.7" x2="23.7" y1="664.52" y2="664.52" stroke="#333" stroke-width="1.4"/>
<text x="17" y="668.72" font-size="10.2" fill="#4D4D4D" text-anchor="end">30</text>
<line x1="19.7" x2="23.7" y1="626.66" y2="626.66" stroke="#333" stroke-width="1.4"/>
<text x="17" y="630.86" font-size="10.2" fill="#4D4D4D" text-anchor="end">40</text>
<line x1="19.7" x2="23.7" y1="588.8" y2="588.8" stroke="#333" stroke-width="1.4"/>
<text x="17" y="593" font-size="10.2" fill="#4D4D4D" text-anchor="end">50</text>
<line x1="19.7" x2="23.7" y1="550.94" y2="550.94" stroke="#333" stroke-width="1.4"/>
<text x="17" y="555.14" font-size="10.2" fill="#4D4D4D" text-anchor="end">60</text>
<line x1="19.7" x2="23.7" y1="513.08" y2="513.08" stroke="#333" stroke-width="1.4"/>
<text x="17" y="517.28" font-size="10.2" fill="#4D4D4D" text-anchor="end">70</text>
<line x1="19.7" x2="23.7" y1="475.22" y2="475.22" stroke="#333" stroke-width="1.4"/>
<text x="17" y="479.42" font-size="10.2" fill="#4D4D4D" text-anchor="end">80</text>
<line x1="19.7" x2="23.7" y1="437.36" y2="437.36" stroke="#333" stroke-width="1.4"/>
<text x="17" y="441.56" font-size="10.2" fill="#4D4D4D" text-anchor="end">90</text>
<line x1="19.7" x2="23.7" y1="399.5" y2="399.5" stroke="#333" stroke-width="1.4"/>
<text x="17" y="403.7" font-size="10.2" fill="#4D4D4D" text-anchor="end">100</text>
<line x1="58.5" x2="58.5" y1="683.0" y2="686.7" stroke="#333" stroke-width="1.4"/>
<text x="58.5" y="696.6" font-size="10.2" fill="#4D4D4D" text-anchor="middle">55–59</text>
<line x1="106.55" x2="106.55" y1="683.0" y2="686.7" stroke="#333" stroke-width="1.4"/>
<text x="106.55" y="696.6" font-size="10.2" fill="#4D4D4D" text-anchor="middle">60–64</text>
<line x1="154.6" x2="154.6" y1="683.0" y2="686.7" stroke="#333" stroke-width="1.4"/>
<text x="154.6" y="696.6" font-size="10.2" fill="#4D4D4D" text-anchor="middle">65–69</text>
<line x1="202.65" x2="202.65" y1="683.0" y2="686.7" stroke="#333" stroke-width="1.4"/>
<text x="202.65" y="696.6" font-size="10.2" fill="#4D4D4D" text-anchor="middle">70–74</text>
<line x1="250.7" x2="250.7" y1="683.0" y2="686.7" stroke="#333" stroke-width="1.4"/>
<text x="250.7" y="696.6" font-size="10.2" fill="#4D4D4D" text-anchor="middle">75–79</text>
<line x1="298.75" x2="298.75" y1="683.0" y2="686.7" stroke="#333" stroke-width="1.4"/>
<text x="298.75" y="696.6" font-size="10.2" fill="#4D4D4D" text-anchor="middle">80–84</text>
<line x1="346.8" x2="346.8" y1="683.0" y2="686.7" stroke="#333" stroke-width="1.4"/>
<text x="346.8" y="696.6" font-size="10.2" fill="#4D4D4D" text-anchor="middle">85–89</text>
<line x1="382.5" x2="382.5" y1="683.0" y2="686.7" stroke="#333" stroke-width="1.4"/>
<text x="382.5" y="696.6" font-size="10.2" fill="#4D4D4D" text-anchor="middle">55–59</text>
<line x1="430.55" x2="430.55" y1="683.0" y2="686.7" stroke="#333" stroke-width="1.4"/>
<text x="430.55" y="696.6" font-size="10.2" fill="#4D4D4D" text-anchor="middle">60–64</text>
<line x1="478.6" x2="478.6" y1="683.0" y2="686.7" stroke="#333" stroke-width="1.4"/>
<text x="478.6" y="696.6" font-size="10.2" fill="#4D4D4D" text-anchor="middle">65–69</text>
<line x1="526.65" x2="526.65" y1="683.0" y2="686.7" stroke="#333" stroke-width="1.4"/>
<text x="526.65" y="696.6" font-size="10.2" fill="#4D4D4D" text-anchor="middle">70–74</text>
<line x1="574.7" x2="574.7" y1="683.0" y2="686.7" stroke="#333" stroke-width="1.4"/>
<text x="574.7" y="696.6" font-size="10.2" fill="#4D4D4D" text-anchor="middle">75–79</text>
<line x1="622.75" x2="622.75" y1="683.0" y2="686.7" stroke="#333" stroke-width="1.4"/>
<text x="622.75" y="696.6" font-size="10.2" fill="#4D4D4D" text-anchor="middle">80–84</text>
<line x1="670.8" x2="670.8" y1="683.0" y2="686.7" stroke="#333" stroke-width="1.4"/>
<text x="670.8" y="696.6" font-size="10.2" fill="#4D4D4D" text-anchor="middle">85–89</text>
<text x="364.5" y="711.7" font-size="12.75" fill="#000" text-anchor="middle">Age [years]</text>
<text x="180.2" y="13.4" font-size="12.75" fill="#000">Completed education [years]:</text>
<rect x="355.9" y="-0.5" width="18.3" height="18.4" fill="#F2F2F2"/>
<rect x="362" y="6.0" width="6.1" height="6.1" fill="#F8766D"/>
<text x="380.6" y="12.8" font-size="10.2" fill="#000">5</text>
<rect x="392.4" y="-0.5" width="18.3" height="18.4" fill="#F2F2F2"/>
<rect x="398.5" y="6.0" width="6.1" height="6.1" fill="#A3A500"/>
<text x="417.1" y="12.8" font-size="10.2" fill="#000">8</text>
<rect x="428.8" y="-0.5" width="18.3" height="18.4" fill="#F2F2F2"/>
<rect x="434.9" y="6.0" width="6.1" height="6.1" fill="#00BF7D"/>
<text x="454.4" y="12.8" font-size="10.2" fill="#000">11</text>
<rect x="471.1" y="-0.5" width="18.3" height="18.4" fill="#F2F2F2"/>
<rect x="477.2" y="6.0" width="6.1" height="6.1" fill="#00B0F6"/>
<text x="496.4" y="12.8" font-size="10.2" fill="#000">13</text>
<rect x="513.4" y="-0.5" width="18.3" height="18.4" fill="#F2F2F2"/>
<rect x="519.5" y="6.0" width="6.1" height="6.1" fill="#E76BF3"/>
<text x="539.2" y="12.8" font-size="10.2" fill="#000">17</text>
<text x="94.3" y="42.5" font-size="12.75" fill="#000">Fraction of MCI patients (sensitivity) / of healthy indivituals (specificity) [%]:</text>
<rect x="524.9" y="28.1" width="18.2" height="19.6" fill="#F2F2F2"/>
<rect x="528.15" y="32.15" width="11.7" height="11.7" fill="#000"/>
<text x="549.6" y="41.7" font-size="10.2" fill="#000">4</text>
<rect x="561.5" y="28.1" width="18.5" height="19.6" fill="#F2F2F2"/>
<rect x="563.45" y="30.75" width="14.5" height="14.5" fill="#000"/>
<text x="585.9" y="41.7" font-size="10.2" fill="#000">8</text>
<rect x="598.0" y="28.1" width="19.7" height="19.6" fill="#F2F2F2"/>
<rect x="599.7" y="29.7" width="16.6" height="16.6" fill="#000"/>
<text x="624.6" y="41.7" font-size="10.2" fill="#000">12</text>
</svg></body></html>
